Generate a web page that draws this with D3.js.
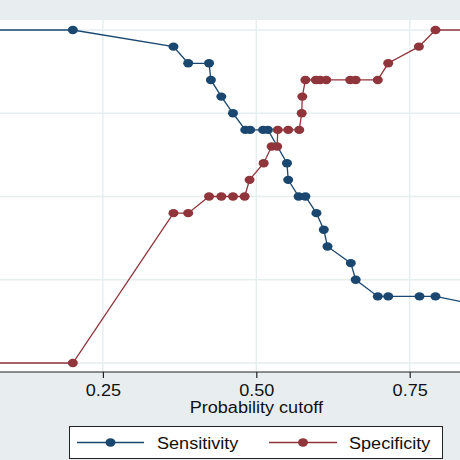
<!DOCTYPE html>
<html>
<head>
<meta charset="utf-8">
<script src="https://cdn.jsdelivr.net/npm/d3@7"></script>
<style>
  html, body { margin: 0; padding: 0; background: #e8eef0; }
  svg { display: block; }
  text { font-family: "Liberation Sans", Arial, sans-serif; fill: #111; }
</style>
</head>
<body>
<svg id="chart" width="460" height="460"></svg>
<script>
// ---- data ----
const xTicks = [0.25, 0.50, 0.75];
const gridX = [0, 0.25, 0.5, 0.75];
const gridY = [0, 0.25, 0.5, 0.75, 1];
const xTitle = "Probability cutoff";
const seriesNames = ["Sensitivity", "Specificity"];

const sensCutoff = [0, 0.201, 0.365, 0.389, 0.423, 0.426, 0.443, 0.462, 0.482, 0.490, 0.511, 0.519,
  0.550, 0.552, 0.569, 0.580, 0.598, 0.610, 0.616, 0.654, 0.662, 0.698, 0.715, 0.766, 0.792, 0.925];
const sensitivity = [1, 1, 0.95, 0.9, 0.9, 0.85, 0.8, 0.75, 0.7, 0.7, 0.7, 0.7,
  0.6, 0.55, 0.5, 0.5, 0.45, 0.4, 0.35, 0.3, 0.25, 0.2, 0.2, 0.2, 0.2, 0.15];

const specCutoff = [0, 0.201, 0.365, 0.389, 0.423, 0.443, 0.462, 0.481, 0.489, 0.512, 0.525, 0.534,
  0.535, 0.552, 0.570, 0.574, 0.575, 0.580, 0.597, 0.604, 0.614, 0.653, 0.662, 0.698, 0.715, 0.765, 0.792, 0.925];
const specificity = [0, 0, 0.45, 0.45, 0.5, 0.5, 0.5, 0.5, 0.55, 0.6, 0.65, 0.65,
  0.7, 0.7, 0.7, 0.75, 0.8, 0.85, 0.85, 0.85, 0.85, 0.85, 0.85, 0.85, 0.9, 0.95, 1, 1];

const colors = ["#1a476f", "#90353b"];

// ---- layout ----
const W = 460, H = 460;
const plotTop = 20, plotBottom = 372;
const svg = d3.select("#chart");
const x = d3.scaleLinear().domain([0, 1]).range([-50.5, 563.1]);
const y = d3.scaleLinear().domain([0, 1]).range([363, 30]);
const SX = 1.13; // horizontal stretch of text

svg.append("rect").attr("x", 0).attr("y", 0).attr("width", W).attr("height", H).attr("fill", "#e8eef0");
svg.append("rect").attr("x", 0).attr("y", plotTop).attr("width", W).attr("height", plotBottom - plotTop).attr("fill", "#ffffff");

// gridlines
svg.append("g").selectAll("line").data(gridY).join("line")
  .attr("x1", 0).attr("x2", W).attr("y1", d => y(d)).attr("y2", d => y(d))
  .attr("stroke", "#e6eef0").attr("stroke-width", 1.4);
svg.append("g").selectAll("line").data(gridX).join("line")
  .attr("y1", plotTop).attr("y2", plotBottom).attr("x1", d => x(d)).attr("x2", d => x(d))
  .attr("stroke", "#e6eef0").attr("stroke-width", 1.4);

// x axis
const xAxis = svg.append("g").attr("transform", `translate(0,${plotBottom})`)
  .call(d3.axisBottom(x).tickValues(xTicks).tickFormat(d3.format(".2f")).tickSize(6).tickSizeOuter(0));
xAxis.select(".domain").attr("d", `M0,0H${W}`).attr("stroke", "#222").attr("stroke-width", 1.2);
xAxis.selectAll(".tick line").attr("stroke", "#222").attr("stroke-width", 1.2);
xAxis.selectAll(".tick text")
  .attr("y", 0).attr("dy", 0)
  .attr("transform", `translate(0,23.5) scale(${SX},1)`)
  .style("font-size", "16px").style("font-family", "Liberation Sans, Arial, sans-serif").attr("fill", "#111");

svg.append("text").attr("text-anchor", "middle")
  .attr("transform", `translate(${x(0.5)},413) scale(${SX},1)`)
  .style("font-size", "16px").text(xTitle);

// series
const seriesData = [
  sensCutoff.map((c, i) => ({ c, v: sensitivity[i] })),
  specCutoff.map((c, i) => ({ c, v: specificity[i] }))
];
const line = d3.line().x(d => x(d.c)).y(d => y(d.v));
seriesData.forEach((data, k) => {
  const g = svg.append("g");
  g.append("path").datum(data).attr("d", line)
    .attr("fill", "none").attr("stroke", colors[k]).attr("stroke-width", 1.3);
  g.selectAll("ellipse").data(data).join("ellipse")
    .attr("cx", d => x(d.c)).attr("cy", d => y(d.v))
    .attr("rx", 5).attr("ry", 4.2).attr("fill", colors[k]);
});

// legend
const lg = svg.append("g");
lg.append("rect").attr("x", 69.5).attr("y", 426.5).attr("width", 373).attr("height", 32)
  .attr("fill", "#fff").attr("stroke", "#222").attr("stroke-width", 1);
const legendItems = [
  { name: seriesNames[0], x1: 77, x2: 144, tx: 157 },
  { name: seriesNames[1], x1: 269, x2: 337, tx: 349 }
];
legendItems.forEach((it, k) => {
  lg.append("line").attr("x1", it.x1).attr("x2", it.x2).attr("y1", 442.5).attr("y2", 442.5)
    .attr("stroke", colors[k]).attr("stroke-width", 1.3);
  lg.append("ellipse").attr("cx", (it.x1 + it.x2) / 2).attr("cy", 442.5).attr("rx", 5).attr("ry", 4.2).attr("fill", colors[k]);
  lg.append("text").attr("transform", `translate(${it.tx},448.5) scale(${SX},1)`)
    .style("font-size", "16px").text(it.name);
});
</script>
</body>
</html>
